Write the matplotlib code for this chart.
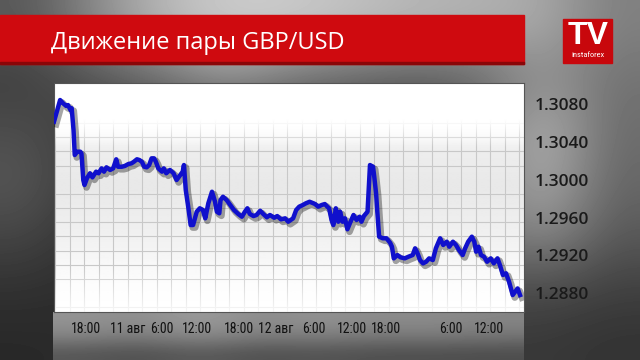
#!/usr/bin/env python3

import numpy as np
import matplotlib
matplotlib.use("Agg")
import matplotlib.pyplot as plt
import matplotlib.patheffects as pe
from matplotlib.patches import Rectangle
from matplotlib.ticker import MultipleLocator

title = "Движение пары GBP/USD"

# hours since the left edge of the chart
hours = [
    0.0, 1.0, 1.5, 2.0, 2.3, 2.7, 2.9, 3.2, 3.4, 3.8,
    4.3, 4.5, 4.8, 5.0, 5.4, 5.9, 6.3, 6.9, 7.3, 7.8,
    8.2, 8.6, 9.2, 9.7, 10.2, 10.5, 11.1, 11.6, 12.2, 12.7,
    13.1, 13.6, 14.0, 14.4, 14.8, 15.2, 15.6, 16.0, 16.4, 16.7,
    17.1, 17.7, 18.0, 18.4,
    19.0, 19.6, 20.1, 20.5, 21.1, 21.3, 21.6, 22.0, 22.4, 22.8,
    23.4, 23.9, 24.4, 24.8, 25.3, 25.9, 26.4, 26.7, 27.1, 27.3,
    27.7, 28.3, 28.9, 29.5, 30.2, 30.8, 31.3, 31.7, 32.1, 32.7,
    33.2, 33.8, 34.3, 34.9, 35.4, 36.1, 36.6, 37.2, 37.9, 38.4,
    39.2, 39.7, 40.2, 40.8, 41.3, 41.9, 42.3, 42.8, 43.3, 43.9,
    44.4, 44.8, 45.1, 45.5, 45.8, 46.2, 46.6, 46.9, 47.3, 47.7,
    48.1, 48.5, 49.1, 49.6, 50.1, 50.4, 50.8, 51.4, 51.8, 52.3,
    52.5, 52.8, 53.0, 53.3, 53.9, 54.5, 55.1, 55.4, 55.7, 56.3,
    56.8, 57.5, 58.1,
    58.8, 59.2, 59.6, 60.0, 60.5, 61.0, 61.5, 62.1, 62.6, 63.3,
    63.8, 64.4, 64.8, 65.4, 65.9, 66.4, 67.0, 67.4, 67.9, 68.5,
    68.9, 69.2, 69.6, 70.0, 70.5, 71.0, 71.6, 72.1, 72.7, 73.1,
    73.6, 74.1, 74.6, 75.2, 75.6, 76.0, 76.4,
]

prices = [
    1.30613, 1.30842, 1.30807, 1.30779, 1.30789, 1.30737, 1.30755, 1.30525, 1.30261, 1.30296,
    1.30296, 1.30279, 1.29997, 1.29944, 1.30015, 1.30068, 1.30025, 1.30085, 1.30068, 1.30120,
    1.30085, 1.30131, 1.30103, 1.30120, 1.30216, 1.30137, 1.30137, 1.30145, 1.30166, 1.30173,
    1.30190, 1.30216, 1.30208, 1.30190, 1.30137, 1.30131, 1.30155, 1.30226, 1.30226, 1.30190,
    1.30120, 1.30085, 1.30120, 1.30068,
    1.30103, 1.30068, 1.29997, 1.30032, 1.30085, 1.30155, 1.29891, 1.29715, 1.29521, 1.29521,
    1.29662, 1.29698, 1.29680, 1.29592, 1.29751, 1.29873, 1.29767, 1.29662, 1.29645, 1.29785,
    1.29820, 1.29785, 1.29733, 1.29680, 1.29638, 1.29609, 1.29662, 1.29698, 1.29638, 1.29616,
    1.29627, 1.29672, 1.29638, 1.29603, 1.29627, 1.29598, 1.29616, 1.29581, 1.29592, 1.29556,
    1.29592, 1.29680, 1.29715, 1.29733, 1.29751, 1.29767, 1.29757, 1.29743, 1.29715, 1.29733,
    1.29743, 1.29715, 1.29698, 1.29574, 1.29521, 1.29698, 1.29556, 1.29662, 1.29556, 1.29592,
    1.29476, 1.29539, 1.29627, 1.29574, 1.29609, 1.29556, 1.29616, 1.29662, 1.30155, 1.30137,
    1.30032, 1.29856, 1.29662, 1.29398, 1.29381, 1.29381, 1.29334, 1.29292, 1.29169, 1.29204,
    1.29180, 1.29169, 1.29186,
    1.29204, 1.29275, 1.29222, 1.29151, 1.29116, 1.29133, 1.29169, 1.29151, 1.29275, 1.29381,
    1.29310, 1.29345, 1.29292, 1.29345, 1.29310, 1.29256, 1.29204, 1.29275, 1.29345, 1.29398,
    1.29345, 1.29239, 1.29292, 1.29204, 1.29186, 1.29133, 1.29169, 1.29116, 1.29169, 1.29098,
    1.28993, 1.29011, 1.28922, 1.28781, 1.28816, 1.28851, 1.28781,
]

x_tick_pos = [5.3, 12.0, 17.7, 23.4, 30.3, 36.4, 42.6, 48.9, 54.4, 65.1, 71.3]
x_tick_labels = ["18:00", "11 авг", "6:00", "12:00", "18:00", "12 авг",
                 "6:00", "12:00", "18:00", "6:00", "12:00"]
y_ticks = [1.2880, 1.2920, 1.2960, 1.3000, 1.3040, 1.3080]

X_RANGE = (0, 77.05)
Y_RANGE = (1.28602, 1.31022)


def draw_background(fig):
    bg = fig.add_axes([0, 0, 1, 1], zorder=-10)
    bg.axis("off")
    # blurred studio backdrop
    shade = np.array([
        [0.35, 0.55, 0.72, 0.80, 0.80, 0.76, 0.72, 0.70, 0.66, 0.50],
        [0.24, 0.34, 0.42, 0.58, 0.46, 0.40, 0.36, 0.38, 0.58, 0.45],
        [0.30, 0.22, 0.28, 0.28, 0.28, 0.28, 0.28, 0.45, 0.72, 0.42],
        [0.34, 0.20, 0.28, 0.28, 0.28, 0.28, 0.28, 0.45, 0.70, 0.40],
        [0.28, 0.18, 0.28, 0.28, 0.28, 0.28, 0.28, 0.42, 0.58, 0.35],
        [0.20, 0.17, 0.26, 0.26, 0.26, 0.26, 0.26, 0.30, 0.32, 0.26],
        [0.16, 0.17, 0.22, 0.22, 0.22, 0.22, 0.22, 0.22, 0.22, 0.20],
    ])
    bg.imshow(shade, cmap="gray", vmin=0, vmax=1, interpolation="bicubic",
              extent=(0, 640, 360, 0), aspect="auto")
    # grey band under the time labels
    band = np.array([[0.58, 0.55, 0.62, 0.54, 0.58, 0.54, 0.55, 0.52],
                     [0.52, 0.48, 0.55, 0.48, 0.50, 0.47, 0.48, 0.46],
                     [0.34, 0.31, 0.36, 0.31, 0.33, 0.31, 0.31, 0.30]])
    bg.imshow(band, cmap="gray", vmin=0, vmax=1, interpolation="bicubic",
              extent=(53, 524, 360, 312), aspect="auto")
    # red title bar
    bg.add_patch(Rectangle((0, 15), 524, 49, color="#cf0a0f", zorder=2))
    bg.add_patch(Rectangle((0, 62), 524, 2, color="#8a0608", zorder=2))
    bg.text(51, 43, title, color="white", fontsize=17, family="Open Sans",
            weight="medium", va="center", ha="left", zorder=3)
    # logo
    bg.add_patch(Rectangle((563, 19), 49, 44, color="#c8070c", zorder=2))
    bg.text(588, 36, "TV", color="white", fontsize=23, weight="bold",
            family="Liberation Sans", ha="center", va="center", zorder=3)
    bg.text(588, 55, "instaforex", color="white", fontsize=6,
            family=["Roboto Condensed", "Roboto"],
            ha="center", va="center", zorder=3)
    bg.set_xlim(0, 640)
    bg.set_ylim(360, 0)


def plot_chart():
    fig = plt.figure(figsize=(6.4, 3.6), dpi=100)
    draw_background(fig)

    ax = fig.add_axes([54 / 640, 48 / 360, 470 / 640, 229 / 360])
    ax.set_facecolor("white")
    ax.set_axisbelow(True)
    extent = (X_RANGE[0], X_RANGE[1], Y_RANGE[0], Y_RANGE[1])

    # soft grey middle behind the grid
    frac = np.linspace(0, 1, 200)
    tone = np.interp(frac, [0, 0.12, 0.35, 0.55, 0.7, 0.82, 1],
                     [1.0, 0.99, 0.94, 0.91, 0.93, 1.0, 1.0])
    ax.imshow(tone[::-1, None], cmap="gray", vmin=0, vmax=1, aspect="auto",
              extent=extent, interpolation="bilinear", zorder=0)

    ax.xaxis.set_minor_locator(MultipleLocator(2.377, offset=0.245))
    ax.yaxis.set_minor_locator(MultipleLocator(0.0015, offset=0.001))
    ax.grid(which="minor", color="#c8c8c8", linewidth=0.8)
    ax.grid(which="major", visible=False)

    # fade the grid out at top and bottom
    fade = np.ones((200, 1, 4))
    fade[:, 0, 3] = np.interp(frac, [0, 0.06, 0.2, 0.72, 0.84, 1],
                              [0.85, 0.6, 0.0, 0.0, 1.0, 1.0])
    ax.imshow(fade[::-1], aspect="auto", extent=extent,
              interpolation="bilinear", zorder=1.5)

    ax.plot(hours, prices, color="#1010cc", linewidth=3.2, zorder=3,
            solid_joinstyle="round",
            path_effects=[pe.SimpleLineShadow(offset=(1.5, -1.8), shadow_color="black",
                                              alpha=0.35, linewidth=4.8),
                          pe.Normal()])

    ax.set_xlim(*X_RANGE)
    ax.set_ylim(*Y_RANGE)

    ax.yaxis.tick_right()
    ax.set_yticks(y_ticks)
    ax.set_yticklabels([f"{v:.4f}" for v in y_ticks])
    ax.set_xticks(x_tick_pos)
    ax.set_xticklabels(x_tick_labels)
    ax.tick_params(axis="y", length=0, pad=8, labelsize=12.5, labelcolor="#1a1a1a")
    ax.tick_params(axis="x", length=0, pad=7, labelsize=10, labelcolor="#111111")
    for lbl in ax.get_yticklabels():
        lbl.set_family("Open Sans")
        lbl.set_weight("semibold")
    for lbl in ax.get_xticklabels():
        lbl.set_family(["Roboto Condensed", "Roboto"])
    ax.tick_params(which="minor", length=0)

    for side in ax.spines.values():
        side.set_color("#555555")
        side.set_linewidth(0.8)

    fig.savefig("out.png", dpi=100)


def main():
    plot_chart()


if __name__ == "__main__":
    main()
